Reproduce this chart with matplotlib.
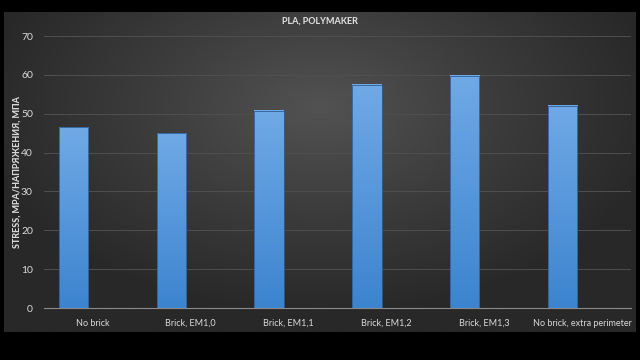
import numpy as np
import matplotlib.pyplot as plt
from matplotlib.colors import LinearSegmentedColormap

# Datos
categories = ["No brick", "Brick, EM1,0", "Brick, EM1,1", "Brick, EM1,2",
              "Brick, EM1,3", "No brick, extra perimeter"]
stress = [46.5, 45.0, 50.8, 57.5, 59.8, 52.0]
y_ticks = [0, 10, 20, 30, 40, 50, 60, 70]

title = "PLA, POLYMAKER"
y_label = "STRESS, MPA/НАПРЯЖЕНИЯ, МПА"

txt = "#d9d9d9"
fonts = ["Lato", "DejaVu Sans"]

fig = plt.figure(figsize=(6.4, 3.6), dpi=100, facecolor="black")

# Fondo con degradado radial (panel gris)
bg = fig.add_axes([4 / 640, 28 / 360, 632 / 640, 320 / 360])
gx, gy = np.meshgrid(np.linspace(-1, 1, 400), np.linspace(-1, 1, 200))
r = np.sqrt(((gx - 0.0) / 1.1) ** 2 + ((gy + 0.4) / 1.3) ** 2)
bg_cmap = LinearSegmentedColormap.from_list("bg", ["#525252", "#3c3c3c", "#282828"])
bg.imshow(np.clip(r, 0, 1), cmap=bg_cmap, aspect="auto", extent=[0, 1, 0, 1])
bg.axis("off")

ax = fig.add_axes([44 / 640, 52 / 360, 587 / 640, 272 / 360])
ax.patch.set_alpha(0)

x = np.arange(len(categories))
bar_w = 0.3
bar_x = x - 0.2

# Barras con degradado vertical
bar_cmap = LinearSegmentedColormap.from_list("bar", ["#3c84cf", "#70a9e6"])
grad = np.linspace(0, 1, 256).reshape(-1, 1)
for xi, v in zip(bar_x, stress):
    ax.imshow(grad, cmap=bar_cmap, aspect="auto", origin="lower",
              extent=[xi - bar_w / 2, xi + bar_w / 2, 0, v], zorder=3)
    ax.bar(xi, v, width=bar_w, facecolor="none", edgecolor="#2f5f94",
           linewidth=0.6, zorder=4)

ax.set_xlim(-0.5, len(categories) - 0.5)
ax.set_ylim(0, 70)
ax.set_yticks(y_ticks)
ax.set_yticklabels([str(t) for t in y_ticks], color=txt, fontsize=7.5, family=fonts)
ax.set_xticks(x)
ax.set_xticklabels(categories, color=txt, fontsize=6.5, family=fonts)
ax.tick_params(axis="both", length=0)
ax.tick_params(axis="y", pad=8)
ax.tick_params(axis="x", pad=8)

ax.grid(axis="y", color="#4f4f4f", linewidth=0.7, zorder=0)
for s in ["top", "right", "left"]:
    ax.spines[s].set_visible(False)
ax.spines["bottom"].set_color("#8a8a8a")
ax.spines["bottom"].set_linewidth(0.8)
ax.spines["bottom"].set_zorder(5)

fig.text(0.5, (360 - 21) / 360, title, ha="center", va="center", color=txt,
         fontsize=6.5, fontweight="black", family=fonts)
fig.text(17 / 640, (360 - 172) / 360, y_label, ha="center", va="center",
         rotation=90, color=txt, fontsize=6.5, fontweight="black", family=fonts)

fig.savefig("out.png", dpi=100, facecolor="black")
